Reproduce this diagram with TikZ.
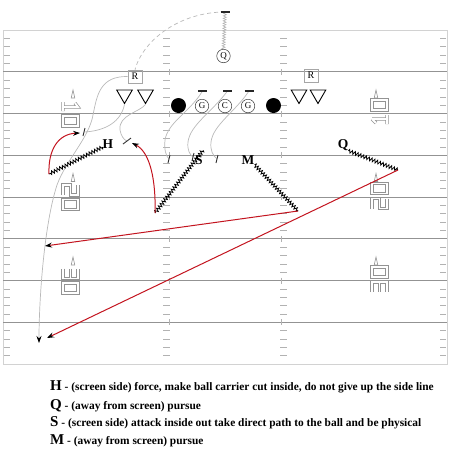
\documentclass[tikz,border=0pt]{standalone}
\usepackage{fontspec}
\setmainfont{Liberation Serif}
\usetikzlibrary{arrows.meta,decorations.pathmorphing,shapes.geometric}

\definecolor{pursuitred}{HTML}{C3141F}

\tikzset{
  yardline/.style={gray!85, line width=0.9pt},
  hashmark/.style={gray!60, line width=0.6pt},
  yardnum/.style={draw=gray!85, double=white, double distance=1.8pt, line width=0.7pt},
  numarrow/.style={draw=gray!85, line width=0.6pt},
  lineman/.style={circle, draw=gray!50!black, line width=0.5pt, inner sep=0pt, minimum size=13.5pt, font=\fontsize{9}{9}\selectfont},
  tackle/.style={circle, fill=black, inner sep=0pt, minimum size=15pt},
  receiver/.style={rectangle, draw=gray!70, line width=0.6pt, inner sep=0pt, minimum width=14pt, minimum height=13pt, font=\fontsize{10}{10}\selectfont},
  wideout/.style={regular polygon, regular polygon sides=3, shape border rotate=180, draw, line width=0.9pt, inner sep=0pt, minimum size=18pt},
  defender/.style={font=\bfseries\fontsize{13.5}{13.5}\selectfont, inner sep=0pt},
  route/.style={gray!55, line width=0.7pt},
  zigzig/.style={decorate, decoration={zigzag, segment length=3pt, amplitude=1.7pt}, line width=0.8pt},
  pursuit/.style={pursuitred, line width=1pt, -{Stealth[color=black, length=7pt, width=5pt]}},
  blockbar/.style={gray!30!black, line width=1.1pt},
  blockmark/.style={black!80, line width=0.9pt},
  legend/.style={font=\bfseries\fontsize{11.4}{12}\selectfont, inner sep=0pt, anchor=base west},
}

\begin{document}
\begin{tikzpicture}[x=1pt, y=-1pt]
\useasboundingbox (0,0) rectangle (450,459);

% field
\draw[gray!35, line width=0.6pt] (3,30) rectangle (447,364);
\foreach \k in {1,...,7}
  \draw[yardline] (3,30+41.75*\k) -- (447,30+41.75*\k);
\foreach \j in {0,...,7}
  \foreach \i in {1,...,4} {
    \pgfmathsetmacro\ty{30+41.75*\j+8.35*\i}
    \draw[hashmark] (4,\ty) -- (10,\ty) (163,\ty) -- (170,\ty) (280,\ty) -- (287,\ty) (440,\ty) -- (446,\ty);
  }
\foreach \k in {1,...,7}
  \draw[hashmark] (169,30+41.75*\k-3) -- ++(0,6) (281,30+41.75*\k-3) -- ++(0,6);

% yard numbers, left side
\draw[numarrow] (73,90) -- (74.8,98) -- (71.2,98) -- cycle;
\draw[yardnum] (63,102) -- (63,111) (63,107) -- (78,107) -- (75,103);
\draw[yardnum] (63,116) -- (78,116) -- (78,126) -- (63,126) -- cycle;
\draw[numarrow] (73,173.5) -- (74.8,181.5) -- (71.2,181.5) -- cycle;
\draw[yardnum] (63,195) -- (63,185) -- (70.5,185) -- (70.5,195) -- (78,195) -- (78,185);
\draw[yardnum] (63,199.5) -- (78,199.5) -- (78,209.5) -- (63,209.5) -- cycle;
\draw[numarrow] (73,257) -- (74.8,265) -- (71.2,265) -- cycle;
\draw[yardnum] (63,268.5) -- (63,278.5) -- (78,278.5) -- (78,268.5) (70.5,268.5) -- (70.5,278.5);
\draw[yardnum] (63,283) -- (78,283) -- (78,293) -- (63,293) -- cycle;
% yard numbers, right side
\draw[numarrow] (376,90) -- (377.8,98) -- (374.2,98) -- cycle;
\draw[yardnum] (372,100) -- (387,100) -- (387,110) -- (372,110) -- cycle;
\draw[yardnum] (387,115) -- (387,124) (372,119) -- (387,119) (372,119) -- (376,123);
\draw[numarrow] (376,173.5) -- (377.8,181.5) -- (374.2,181.5) -- cycle;
\draw[yardnum] (372,183.5) -- (387,183.5) -- (387,193.5) -- (372,193.5) -- cycle;
\draw[yardnum] (387,198.5) -- (387,208.5) -- (379.5,208.5) -- (379.5,198.5) -- (372,198.5) -- (372,208.5);
\draw[numarrow] (376,257) -- (377.8,265) -- (374.2,265) -- cycle;
\draw[yardnum] (372,267) -- (387,267) -- (387,277) -- (372,277) -- cycle;
\draw[yardnum] (372,292) -- (372,282) -- (387,282) -- (387,292) (379.5,282) -- (379.5,292);

% offense
\node[lineman] (qb) at (223.5,56) {Q};
\node[tackle] (lt) at (178.5,105.5) {};
\node[lineman] (lg) at (202,106) {G};
\node[lineman] (cen) at (225,106) {C};
\node[lineman] (rg) at (248,106) {G};
\node[tackle] (rt) at (273.5,105.5) {};
\node[receiver] (rbL) at (135,76.5) {R};
\node[receiver] (rbR) at (311,75.5) {R};
\node[wideout] (wl1) at (124.5,94.5) {};
\node[wideout] (wl2) at (145.5,94.5) {};
\node[wideout] (wr1) at (299,94.5) {};
\node[wideout] (wr2) at (318,94.5) {};

% defense
\node[defender] (H) at (108,144) {H};
\node[defender] (S) at (199,160) {S};
\node[defender] (M) at (248,160) {M};
\node[defender] (Q) at (343,145) {Q};

\coordinate (drop) at (225,12);
\coordinate (barG1) at (202.5,91);
\coordinate (barC) at (227.5,91);
\coordinate (barG2) at (249,91);
\coordinate (blkA) at (84,132);
\coordinate (blkB) at (127,141);
\coordinate (blkG1) at (169,159);
\coordinate (blkC) at (193,157);
\coordinate (blkG2) at (217,159);
\coordinate (catch) at (39,343);
\coordinate (hEnd) at (49,174);
\coordinate (hHit) at (80,133);
\coordinate (sEnd) at (155,213);
\coordinate (sHit) at (132,143);
\coordinate (mEnd) at (298,211);
\coordinate (mHit) at (45,246);
\coordinate (qEnd) at (398,170);
\coordinate (qHit) at (47,338);

% screen play
\draw[zigzig, gray!60, line width=0.6pt, decoration={segment length=2.5pt, amplitude=1.5pt}] (qb.north) -- (drop);
\draw[route, dash pattern=on 4pt off 3pt] (drop) .. controls (180,12) and (143,40) .. (rbL.north);
\draw[route, -{Stealth[color=black, length=7pt, width=5pt]}] (rbL.west) .. controls (100,76) and (97,95) .. (93,115) .. controls (89,138) and (66,160) .. (57,185) .. controls (44,225) and (39,300) .. (catch);
\draw[route] (wl1.south) .. controls (121,122) and (105,131) .. (blkA);
\draw[route] (wl2.south) .. controls (140,112) and (118,115) .. (120,130) .. controls (121,136) and (124,140) .. (blkB);
\draw[route] (barG1) .. controls (190,112) and (168,122) .. (165,140) .. controls (164,150) and (166,156) .. (blkG1);
\draw[route] (barC) .. controls (212,112) and (190,125) .. (188,142) .. controls (187,150) and (190,155) .. (blkC);
\draw[route] (barG2) .. controls (235,112) and (213,125) .. (211,142) .. controls (210,150) and (213,156) .. (blkG2);
\foreach \b in {drop,barG1,barC,barG2}
  \draw[blockbar] ([xshift=-4.5pt]\b) -- ([xshift=4.5pt]\b);
\foreach \b in {blkA,blkG1,blkC,blkG2}
  \draw[blockmark] ([shift={(-1,4)}]\b) -- ([shift={(1,-4)}]\b);
\draw[blockmark] ([shift={(-4,3)}]blkB) -- ([shift={(4,-3)}]blkB);

% pursuit
\draw[zigzig] ([yshift=-3pt]H.west) -- (hEnd);
\draw[zigzig] ([yshift=5pt]S.north east) -- (sEnd);
\draw[zigzig] (M.south east) -- (mEnd);
\draw[zigzig] (Q.south east) -- (qEnd);
\draw[pursuit] (hEnd) .. controls (48,150) and (58,134) .. (hHit);
\draw[pursuit] (sEnd) .. controls (156,180) and (150,152) .. (sHit);
\draw[pursuit] (mEnd) -- (mHit);
\draw[pursuit] (qEnd) -- (qHit);

% legend
\node[legend] (legH) at (50,390.5) {{\fontsize{15}{15}\selectfont H} - (screen side) force, make ball carrier cut inside, do not give up the side line};
\node[legend] (legQ) at (50,409) {{\fontsize{15}{15}\selectfont Q} - (away from screen) pursue};
\node[legend] (legS) at (50,426.5) {{\fontsize{15}{15}\selectfont S} - (screen side) attack inside out take direct path to the ball and be physical};
\node[legend] (legM) at (50,444) {{\fontsize{15}{15}\selectfont M} - (away from screen) pursue};
\end{tikzpicture}
\end{document}
